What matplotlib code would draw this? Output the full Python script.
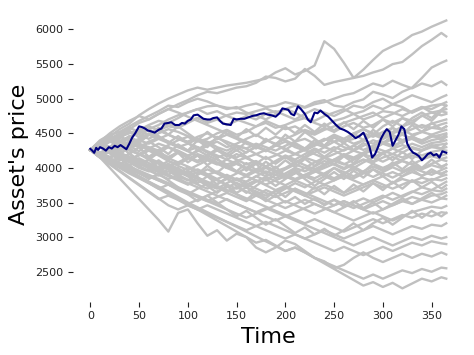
import matplotlib
matplotlib.use("Agg")
import matplotlib.pyplot as plt

# time grid for the simulated paths (days)
grid_days = [0, 10, 20, 30, 40, 50, 60, 70, 80, 90,
             100, 110, 120, 130, 140, 150, 160, 170, 180, 190,
             200, 210, 220, 230, 240, 250, 260, 270, 280, 290,
             300, 310, 320, 330, 340, 350, 360, 365]

# simulated price paths (grey)
sim_paths = [
    [4260, 4380, 4450, 4560, 4640, 4760, 4850, 4930, 5000, 5060,
     5120, 5160, 5130, 5160, 5190, 5210, 5230, 5260, 5290, 5380,
     5440, 5350, 5400, 5480, 5830, 5720, 5520, 5300, 5420, 5560,
     5690, 5760, 5820, 5920, 5970, 6040, 6100, 6130],
    [4260, 4330, 4420, 4480, 4560, 4650, 4700, 4780, 4850, 4920,
     4980, 5050, 5100, 5080, 5120, 5160, 5180, 5230, 5320, 5300,
     5250, 5290, 5430, 5330, 5200, 5240, 5270, 5300, 5330, 5380,
     5420, 5500, 5530, 5640, 5760, 5850, 5950, 5900],
    [4260, 4350, 4400, 4380, 4450, 4500, 4560, 4620, 4700, 4760,
     4800, 4850, 4890, 4900, 4870, 4860, 4900, 4930, 4880, 4900,
     4950, 4920, 4880, 4950, 4980, 4900, 4880, 4950, 4990, 5100,
     5060, 5010, 5100, 5160, 5300, 5450, 5520, 5550],
    [4260, 4200, 4300, 4380, 4420, 4400, 4480, 4550, 4600, 4580,
     4650, 4720, 4680, 4700, 4760, 4800, 4780, 4820, 4860, 4800,
     4850, 4900, 4870, 4920, 4950, 5000, 5050, 5080, 5150, 5220,
     5180, 5260, 5200, 5150, 5220, 5180, 5250, 5200],
    [4260, 4320, 4250, 4380, 4450, 4520, 4480, 4560, 4630, 4600,
     4680, 4720, 4650, 4700, 4620, 4680, 4750, 4700, 4780, 4820,
     4760, 4700, 4780, 4850, 4800, 4750, 4820, 4900, 4870, 4950,
     5000, 4920, 4980, 5050, 5000, 4950, 5020, 5050],
    [4260, 4400, 4480, 4520, 4600, 4680, 4750, 4820, 4900, 4880,
     4950, 5000, 4960, 4900, 4850, 4880, 4800, 4760, 4700, 4780,
     4850, 4800, 4720, 4680, 4750, 4800, 4850, 4780, 4820, 4900,
     4850, 4920, 4880, 4800, 4860, 4900, 4920, 4950],
    [4260, 4300, 4380, 4450, 4500, 4550, 4620, 4680, 4650, 4720,
     4800, 4850, 4780, 4820, 4750, 4700, 4650, 4600, 4680, 4620,
     4560, 4600, 4520, 4480, 4550, 4600, 4650, 4700, 4750, 4800,
     4720, 4780, 4850, 4800, 4880, 4850, 4920, 4900],
    [4260, 4200, 4150, 4220, 4280, 4350, 4300, 4250, 4330, 4400,
     4450, 4380, 4420, 4500, 4550, 4480, 4520, 4600, 4650, 4580,
     4620, 4680, 4720, 4650, 4600, 4680, 4720, 4780, 4700, 4750,
     4820, 4800, 4750, 4820, 4880, 4800, 4830, 4850],
    [4260, 4180, 4250, 4320, 4280, 4200, 4150, 4220, 4300, 4250,
     4180, 4240, 4320, 4380, 4300, 4350, 4420, 4480, 4400, 4350,
     4420, 4480, 4550, 4500, 4580, 4520, 4600, 4650, 4580, 4620,
     4700, 4650, 4720, 4680, 4750, 4800, 4760, 4780],
    [4260, 4350, 4300, 4250, 4320, 4400, 4350, 4420, 4480, 4420,
     4380, 4450, 4500, 4430, 4380, 4320, 4280, 4350, 4300, 4250,
     4320, 4380, 4420, 4350, 4400, 4480, 4420, 4500, 4560, 4500,
     4450, 4520, 4600, 4650, 4580, 4640, 4680, 4700],
    [4260, 4150, 4100, 4050, 4120, 4080, 4000, 3950, 4020, 4080,
     4150, 4100, 4180, 4250, 4200, 4150, 4230, 4300, 4250, 4320,
     4380, 4300, 4250, 4320, 4400, 4450, 4380, 4420, 4500, 4450,
     4520, 4580, 4500, 4560, 4620, 4580, 4630, 4650],
    [4260, 4300, 4380, 4320, 4250, 4200, 4280, 4350, 4300, 4220,
     4150, 4100, 4180, 4120, 4050, 4100, 4150, 4200, 4130, 4180,
     4250, 4200, 4280, 4350, 4300, 4380, 4420, 4350, 4400, 4480,
     4420, 4500, 4550, 4480, 4520, 4580, 4560, 4600],
    [4260, 4200, 4120, 4050, 3980, 3920, 3850, 3900, 3950, 3880,
     3820, 3900, 3980, 3920, 3850, 3920, 4000, 4080, 4020, 4100,
     4180, 4120, 4200, 4280, 4220, 4300, 4250, 4320, 4400, 4350,
     4420, 4480, 4400, 4460, 4520, 4480, 4530, 4550],
    [4260, 4330, 4400, 4460, 4520, 4480, 4420, 4500, 4560, 4520,
     4460, 4400, 4350, 4420, 4480, 4420, 4350, 4300, 4380, 4450,
     4400, 4330, 4280, 4350, 4420, 4380, 4300, 4250, 4320, 4400,
     4350, 4420, 4480, 4420, 4380, 4450, 4480, 4500],
    [4260, 4220, 4150, 4200, 4130, 4060, 4000, 3940, 3880, 3820,
     3760, 3820, 3750, 3700, 3780, 3850, 3800, 3880, 3950, 3900,
     3980, 4050, 4000, 4080, 4150, 4100, 4180, 4250, 4200, 4280,
     4350, 4300, 4380, 4420, 4350, 4400, 4430, 4450],
    [4260, 4380, 4450, 4400, 4350, 4420, 4500, 4450, 4380, 4320,
     4250, 4300, 4220, 4150, 4200, 4120, 4050, 4100, 4020, 3950,
     4000, 4080, 4150, 4100, 4050, 4120, 4200, 4150, 4220, 4300,
     4250, 4200, 4280, 4350, 4300, 4360, 4380, 4400],
    [4260, 4150, 4080, 4000, 3920, 3850, 3780, 3700, 3760, 3680,
     3620, 3700, 3780, 3720, 3650, 3720, 3800, 3880, 3820, 3900,
     3850, 3920, 4000, 3950, 4030, 4100, 4050, 4120, 4200, 4150,
     4220, 4280, 4220, 4300, 4260, 4320, 4340, 4350],
    [4260, 4300, 4220, 4280, 4350, 4300, 4380, 4440, 4380, 4300,
     4350, 4420, 4380, 4300, 4250, 4320, 4280, 4200, 4260, 4330,
     4280, 4200, 4150, 4220, 4300, 4250, 4180, 4120, 4200, 4260,
     4200, 4280, 4330, 4280, 4250, 4300, 4280, 4300],
    [4260, 4180, 4100, 4150, 4080, 4000, 3950, 4020, 4100, 4050,
     4130, 4200, 4150, 4080, 4020, 3950, 3900, 3980, 3920, 3850,
     3920, 4000, 3950, 4020, 4100, 4050, 3980, 4050, 4120, 4080,
     4150, 4200, 4150, 4220, 4180, 4230, 4260, 4250],
    [4260, 4330, 4280, 4200, 4120, 4180, 4250, 4180, 4100, 4030,
     3970, 4040, 4110, 4050, 4120, 4200, 4140, 4080, 4020, 4090,
     4160, 4100, 4040, 3980, 4050, 4120, 4060, 4000, 4080, 4150,
     4090, 4160, 4100, 4050, 4120, 4170, 4130, 4150],
    [4260, 4200, 4250, 4180, 4100, 4030, 3960, 3900, 3840, 3900,
     3830, 3760, 3700, 3770, 3840, 3780, 3720, 3800, 3870, 3810,
     3750, 3820, 3900, 3850, 3920, 4000, 3940, 3880, 3950, 4020,
     3960, 4030, 4100, 4050, 3990, 4060, 4120, 4100],
    [4260, 4310, 4250, 4320, 4380, 4320, 4260, 4200, 4140, 4080,
     4020, 3960, 3900, 3950, 3880, 3820, 3880, 3950, 4020, 3960,
     3900, 3840, 3900, 3970, 3910, 3850, 3920, 3990, 3930, 3870,
     3940, 4010, 3950, 4020, 3980, 4040, 4000, 4050],
    [4260, 4200, 4130, 4060, 4000, 3940, 3880, 3820, 3760, 3700,
     3640, 3580, 3520, 3580, 3640, 3580, 3520, 3600, 3680, 3620,
     3700, 3780, 3720, 3800, 3880, 3820, 3900, 3850, 3920, 3980,
     3920, 3860, 3930, 4000, 3950, 3900, 3970, 4000],
    [4260, 4320, 4380, 4450, 4400, 4340, 4280, 4220, 4160, 4220,
     4150, 4080, 4140, 4070, 4000, 4060, 4000, 3940, 3880, 3940,
     3880, 3820, 3880, 3820, 3760, 3820, 3880, 3820, 3760, 3820,
     3880, 3940, 3880, 3940, 3890, 3940, 3920, 3950],
    [4260, 4180, 4230, 4160, 4090, 4140, 4070, 4000, 4060, 3990,
     3920, 3980, 3910, 3840, 3900, 3830, 3760, 3820, 3750, 3680,
     3740, 3670, 3600, 3660, 3720, 3660, 3600, 3660, 3720, 3780,
     3720, 3780, 3840, 3800, 3860, 3820, 3880, 3900],
    [4260, 4200, 4140, 4080, 4020, 3960, 3900, 3840, 3780, 3720,
     3660, 3600, 3540, 3480, 3550, 3480, 3420, 3360, 3420, 3360,
     3300, 3360, 3420, 3480, 3420, 3360, 3430, 3500, 3560, 3500,
     3570, 3640, 3580, 3650, 3720, 3680, 3760, 3800],
    [4260, 4300, 4240, 4180, 4120, 4060, 4120, 4060, 4000, 3940,
     3880, 3940, 3880, 3820, 3760, 3700, 3760, 3700, 3640, 3580,
     3640, 3700, 3640, 3580, 3520, 3460, 3520, 3460, 3400, 3460,
     3520, 3460, 3520, 3580, 3540, 3600, 3620, 3650],
    [4260, 4190, 4130, 4060, 4000, 3940, 3880, 3820, 3760, 3700,
     3640, 3580, 3520, 3460, 3400, 3340, 3280, 3340, 3400, 3460,
     3520, 3460, 3400, 3340, 3400, 3460, 3520, 3460, 3400, 3340,
     3400, 3460, 3520, 3480, 3540, 3500, 3560, 3550],
    [4260, 4220, 4160, 4220, 4160, 4100, 4040, 3980, 4040, 3980,
     3920, 3860, 3800, 3740, 3680, 3620, 3560, 3500, 3440, 3380,
     3320, 3260, 3200, 3260, 3200, 3140, 3080, 3140, 3200, 3260,
     3200, 3260, 3320, 3280, 3340, 3300, 3360, 3350],
    [4260, 4180, 4100, 4020, 3940, 3860, 3780, 3700, 3620, 3540,
     3460, 3400, 3460, 3400, 3340, 3280, 3220, 3160, 3220, 3160,
     3100, 3040, 2980, 3040, 3100, 3040, 2980, 3040, 3100, 3160,
     3100, 3040, 3100, 3160, 3120, 3180, 3160, 3200],
    [4260, 4320, 4260, 4200, 4140, 4080, 4020, 3960, 3900, 3840,
     3780, 3720, 3660, 3600, 3540, 3480, 3420, 3360, 3300, 3240,
     3300, 3240, 3180, 3120, 3060, 3000, 2940, 2880, 2940, 3000,
     2940, 2880, 2940, 3000, 2960, 3020, 2980, 3000],
    [4260, 4160, 4060, 3960, 3860, 3760, 3660, 3560, 3460, 3400,
     3460, 3400, 3340, 3280, 3220, 3160, 3100, 3160, 3100, 3040,
     2980, 3040, 2980, 2920, 2860, 2800, 2860, 2800, 2740, 2800,
     2860, 2800, 2860, 2920, 2880, 2940, 2910, 2900],
    [4260, 4150, 4000, 3850, 3700, 3550, 3400, 3250, 3080, 3350,
     3400, 3200, 3020, 3100, 2950, 3050, 3000, 2850, 2780, 2850,
     2950, 2900, 2800, 2700, 2650, 2550, 2600, 2700, 2780, 2700,
     2640, 2700, 2760, 2700, 2760, 2720, 2780, 2750],
    [4260, 4200, 4120, 4040, 3960, 3880, 3800, 3720, 3640, 3560,
     3480, 3400, 3320, 3240, 3160, 3080, 3000, 2920, 2960, 2880,
     2800, 2850, 2780, 2700, 2640, 2580, 2520, 2460, 2400, 2460,
     2400, 2460, 2520, 2480, 2540, 2500, 2560, 2550],
    [4260, 4180, 4100, 4030, 3960, 3880, 3800, 3730, 3660, 3580,
     3500, 3430, 3360, 3290, 3220, 3150, 3080, 3010, 2940, 2870,
     2800, 2850, 2780, 2700, 2620, 2540, 2460, 2380, 2300, 2350,
     2280, 2340, 2260, 2330, 2400, 2360, 2420, 2400],
    [4260, 4380, 4500, 4600, 4680, 4750, 4700, 4780, 4850, 4800,
     4740, 4680, 4620, 4560, 4500, 4440, 4380, 4320, 4260, 4200,
     4140, 4200, 4260, 4200, 4140, 4200, 4260, 4320, 4260, 4320,
     4380, 4320, 4380, 4440, 4400, 4460, 4440, 4480],
    [4260, 4340, 4420, 4500, 4580, 4520, 4600, 4540, 4480, 4420,
     4360, 4300, 4240, 4180, 4120, 4060, 4000, 3940, 4000, 3940,
     3880, 3820, 3760, 3700, 3760, 3700, 3640, 3700, 3760, 3820,
     3760, 3700, 3760, 3820, 3780, 3840, 3820, 3850],
    [4260, 4200, 4260, 4320, 4260, 4200, 4140, 4080, 4020, 3960,
     3900, 3840, 3780, 3720, 3660, 3720, 3660, 3600, 3540, 3480,
     3420, 3480, 3540, 3480, 3420, 3360, 3300, 3240, 3300, 3360,
     3300, 3240, 3300, 3360, 3400, 3440, 3420, 3450],
    [4260, 4220, 4300, 4380, 4320, 4400, 4480, 4420, 4360, 4300,
     4240, 4180, 4120, 4060, 4000, 3940, 3880, 3820, 3760, 3820,
     3880, 3940, 3880, 3940, 4000, 4060, 4000, 4060, 4120, 4060,
     4000, 4060, 4120, 4180, 4140, 4200, 4180, 4200],
    [4260, 4150, 4050, 3950, 3850, 3750, 3650, 3550, 3600, 3540,
     3480, 3540, 3600, 3660, 3720, 3780, 3720, 3660, 3600, 3660,
     3720, 3660, 3600, 3540, 3480, 3540, 3480, 3420, 3480, 3540,
     3600, 3540, 3600, 3660, 3620, 3680, 3660, 3700],
    [4260, 4150, 4280, 4180, 4320, 4240, 4380, 4300, 4200, 4340,
     4250, 4400, 4300, 4450, 4350, 4250, 4380, 4280, 4420, 4330,
     4480, 4380, 4520, 4420, 4320, 4460, 4360, 4500, 4400, 4550,
     4450, 4580, 4480, 4620, 4520, 4650, 4560, 4600],
    [4260, 4360, 4240, 4340, 4200, 4300, 4160, 4260, 4120, 4220,
     4080, 4180, 4040, 4140, 4000, 4100, 3960, 4060, 3920, 4020,
     3880, 3980, 3860, 3960, 3880, 4000, 3900, 4020, 3940, 4060,
     3960, 4080, 3980, 4100, 4000, 4120, 4020, 4050],
    [4260, 4170, 4270, 4140, 4030, 4130, 3990, 3890, 3990, 3860,
     3760, 3870, 3740, 3640, 3750, 3620, 3540, 3650, 3560, 3680,
     3580, 3700, 3600, 3720, 3620, 3740, 3640, 3760, 3660, 3780,
     3680, 3800, 3700, 3820, 3720, 3800, 3700, 3750],
    [4260, 4340, 4240, 4360, 4460, 4360, 4480, 4580, 4480, 4600,
     4500, 4400, 4520, 4420, 4540, 4440, 4560, 4460, 4580, 4480,
     4600, 4500, 4620, 4520, 4640, 4540, 4660, 4560, 4680, 4580,
     4700, 4600, 4720, 4640, 4760, 4680, 4820, 4800],
    [4260, 4200, 4300, 4220, 4120, 4020, 4120, 4000, 3900, 4000,
     3880, 3780, 3880, 3760, 3860, 3740, 3640, 3740, 3840, 3740,
     3840, 3940, 3840, 3740, 3840, 3940, 3840, 3960, 3860, 3980,
     3880, 3780, 3880, 3980, 3880, 3980, 3900, 3950],
    [4260, 4310, 4210, 4110, 4210, 4110, 4010, 4110, 4010, 3910,
     4010, 3910, 4030, 3930, 4050, 3950, 4070, 3970, 4090, 3990,
     4110, 4010, 4130, 4030, 4150, 4050, 4170, 4070, 4190, 4090,
     4210, 4110, 4230, 4130, 4250, 4330, 4280, 4350],
    [4260, 4200, 4290, 4190, 4100, 4200, 4120, 4220, 4140, 4240,
     4160, 4260, 4180, 4280, 4200, 4300, 4220, 4320, 4240, 4340,
     4260, 4360, 4280, 4400, 4320, 4440, 4360, 4480, 4560, 4480,
     4600, 4680, 4600, 4720, 4800, 4720, 4840, 4900],
    [4260, 4320, 4220, 4120, 4200, 4100, 4000, 4080, 3980, 3880,
     3960, 3860, 3760, 3840, 3740, 3640, 3720, 3620, 3520, 3600,
     3500, 3580, 3480, 3560, 3460, 3540, 3440, 3520, 3420, 3500,
     3400, 3480, 3560, 3480, 3560, 3640, 3560, 3600],
    [4260, 4380, 4300, 4420, 4540, 4440, 4560, 4460, 4360, 4460,
     4360, 4260, 4360, 4260, 4160, 4260, 4160, 4060, 4160, 4060,
     4160, 4060, 4160, 4260, 4160, 4260, 4360, 4260, 4360, 4260,
     4360, 4460, 4360, 4460, 4380, 4480, 4400, 4450],
    [4260, 4160, 4060, 4140, 4040, 3940, 3840, 3920, 3820, 3720,
     3620, 3520, 3600, 3500, 3400, 3300, 3380, 3280, 3180, 3260,
     3160, 3060, 3140, 3040, 3120, 3020, 3100, 3200, 3100, 3200,
     3280, 3180, 3280, 3380, 3280, 3380, 3300, 3350],
]

# highlighted path (navy)
hl_days = [0, 2, 4, 6, 8, 10, 13, 16, 19, 22,
           25, 28, 31, 34, 37, 40, 43, 46, 50, 53,
           56, 59, 62, 66, 70, 73, 76, 80, 83, 87,
           91, 94, 97, 100, 103, 106, 110, 113, 116, 120,
           123, 126, 130, 133, 136, 140, 144, 147, 150, 154,
           158, 162, 166, 170, 174, 178, 182, 186, 190, 194,
           197, 200, 203, 206, 209, 213, 216, 220, 223, 226,
           230, 233, 236, 240, 244, 248, 252, 256, 260, 264,
           268, 272, 276, 280, 283, 286, 289, 292, 295, 298,
           301, 304, 307, 310, 313, 316, 319, 322, 325, 328,
           331, 334, 337, 340, 343, 346, 349, 352, 355, 358,
           361, 365]
hl_price = [4276, 4250, 4218, 4290, 4260, 4300, 4280, 4250, 4300, 4280,
            4320, 4300, 4330, 4300, 4270, 4350, 4440, 4500, 4600, 4590,
            4570, 4540, 4530, 4510, 4550, 4570, 4640, 4650, 4660, 4620,
            4620, 4650, 4640, 4680, 4700, 4760, 4770, 4740, 4710, 4700,
            4700, 4720, 4730, 4680, 4640, 4630, 4620, 4710, 4700, 4710,
            4710, 4730, 4750, 4760, 4780, 4790, 4770, 4760, 4740, 4790,
            4860, 4850, 4840, 4780, 4760, 4890, 4850, 4780, 4700, 4660,
            4800, 4790, 4830, 4780, 4740, 4680, 4620, 4570, 4550, 4520,
            4480, 4430, 4460, 4510, 4420, 4320, 4150, 4200, 4300, 4420,
            4500, 4560, 4520, 4320, 4400, 4480, 4600, 4560, 4350, 4270,
            4220, 4200, 4170, 4110, 4150, 4200, 4220, 4180, 4200, 4150,
            4240, 4220]

fig = plt.figure(figsize=(4.74, 3.55), dpi=100)
ax = fig.add_axes([0.153, 0.15, 0.826, 0.83])

for p in sim_paths:
    ax.plot(grid_days, p, color='#c0c0c0', lw=1.7)
ax.plot(hl_days, hl_price, color='navy', lw=1.5)

for s in ax.spines.values():
    s.set_visible(False)
ax.tick_params(labelsize=8, colors='#222222', length=3.5, width=0.8)
ax.set_xticks([0, 50, 100, 150, 200, 250, 300, 350])
ax.set_yticks([2500, 3000, 3500, 4000, 4500, 5000, 5500, 6000])
ax.set_xlabel("Time", fontsize=16)
ax.set_ylabel("Asset's price", fontsize=16)

fig.savefig("out.png", dpi=100)
